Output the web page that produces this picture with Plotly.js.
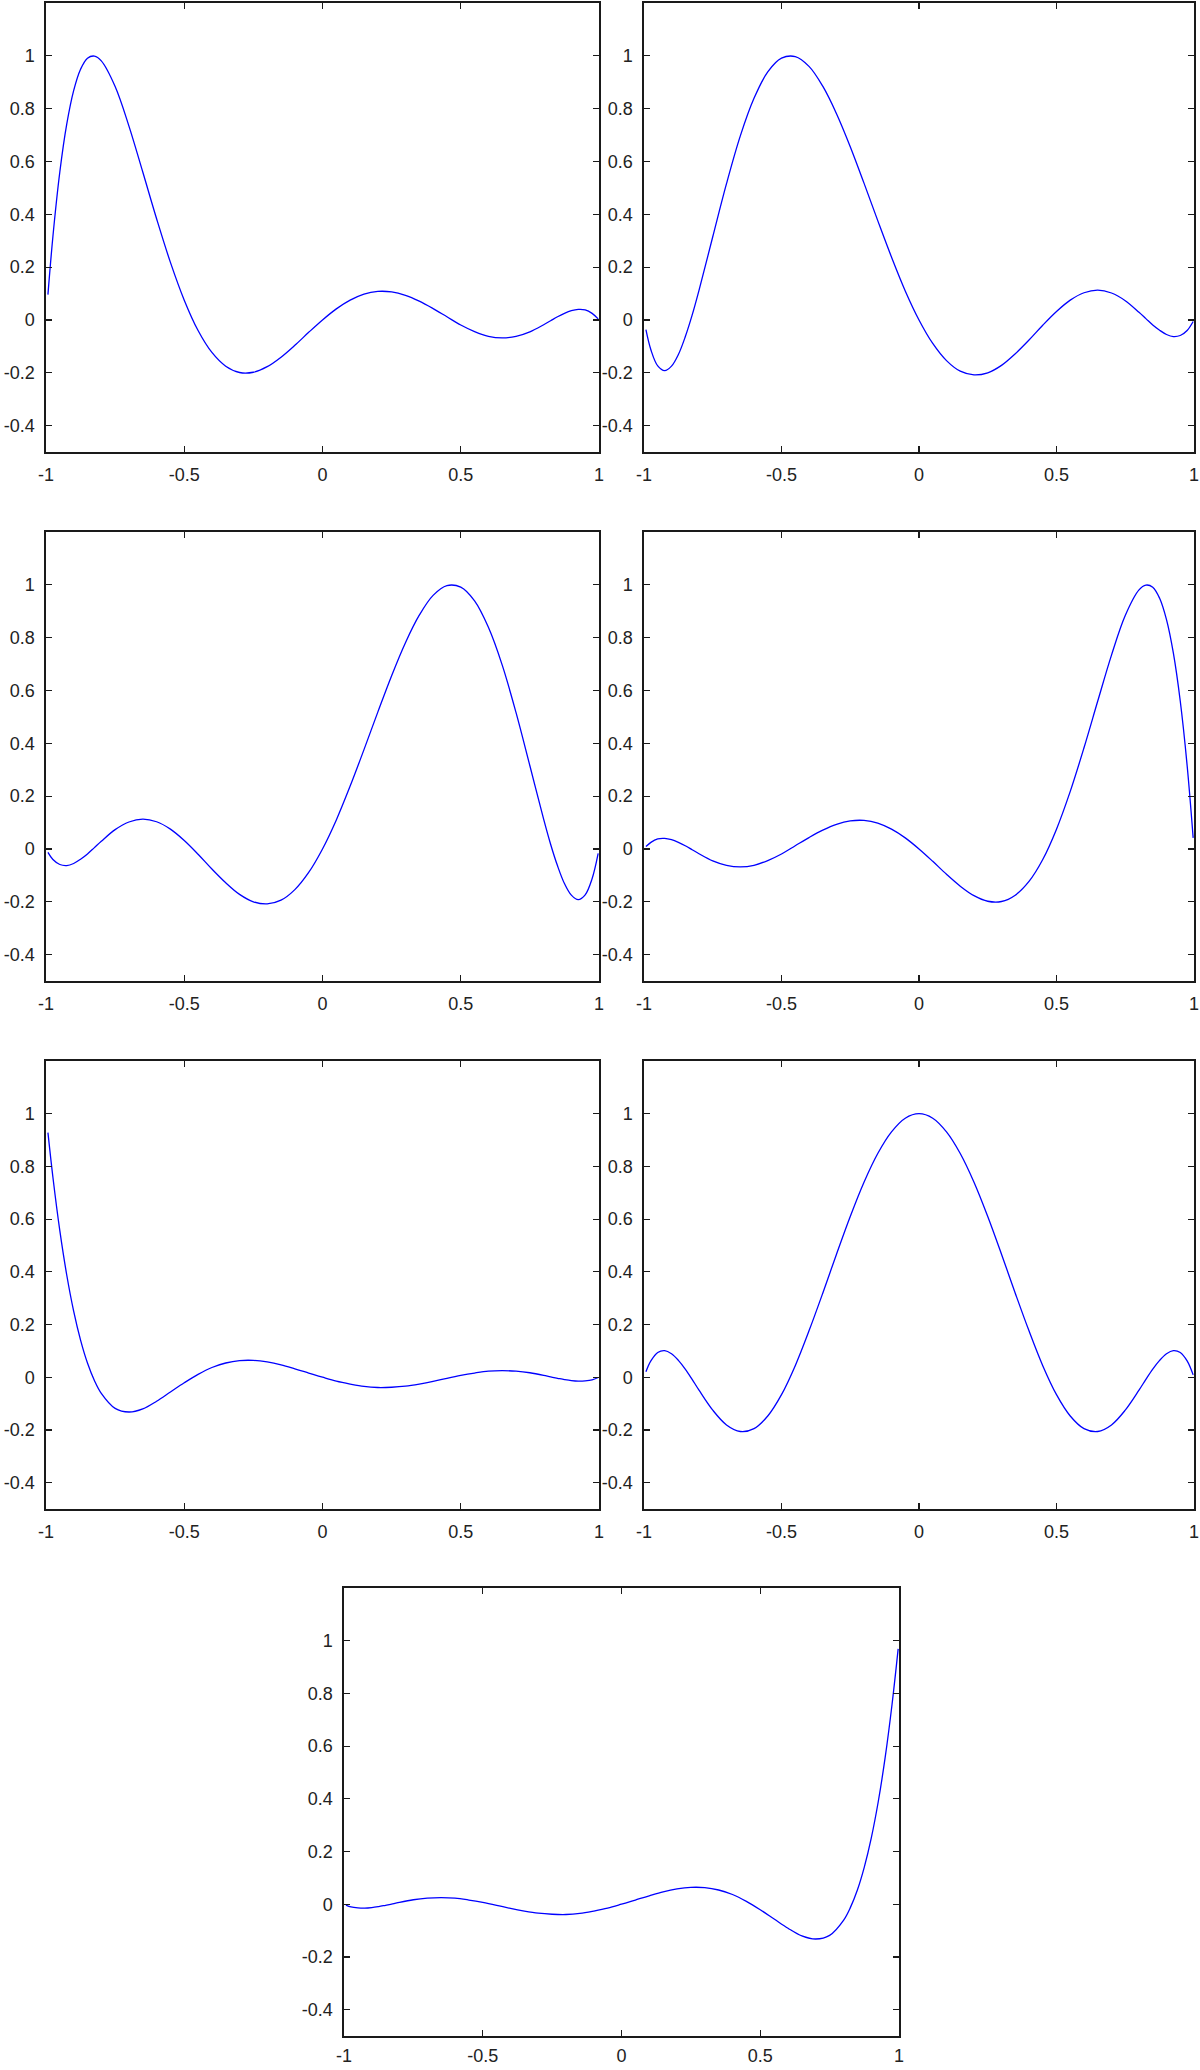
<!DOCTYPE html>
<html>
<head>
<meta charset="utf-8">
<script src="https://cdn.plot.ly/plotly-3.0.1.min.js"></script>
<style>
  html, body { margin: 0; padding: 0; background: #ffffff; }
  #chart { width: 1200px; height: 2070px; }
</style>
</head>
<body>
<div id="chart"></div>
<script>
// sample positions along x
const xSamples = [-0.993, -0.975, -0.95, -0.925, -0.9, -0.875, -0.85, -0.825,
  -0.8, -0.75, -0.7, -0.65, -0.6, -0.55, -0.5, -0.45, -0.4, -0.35, -0.3, -0.25,
  -0.2, -0.15, -0.1, -0.05, 0, 0.05, 0.1, 0.15, 0.2, 0.25, 0.3, 0.35, 0.4, 0.45,
  0.5, 0.55, 0.6, 0.65, 0.7, 0.75, 0.8,
  0.825, 0.85, 0.875, 0.9, 0.925, 0.95, 0.975, 0.997];

// panel 1 (peak near -0.83)
const curvePeakM083 = [0.096, 0.316, 0.560, 0.741, 0.868, 0.949, 0.991, 0.999,
  0.981, 0.884, 0.734, 0.560, 0.383, 0.218, 0.075, -0.040, -0.123, -0.175, -0.199, -0.198,
  -0.177, -0.141, -0.096, -0.047, 0, 0.042, 0.075, 0.098, 0.108, 0.106, 0.093, 0.071, 0.043, 0.012,
  -0.019, -0.044, -0.062, -0.068, -0.062, -0.045, -0.018,
  -0.003, 0.012, 0.025, 0.035, 0.040, 0.038, 0.025, 0.004];

// panel 2 (peak near -0.47)
const curvePeakM047 = [-0.037, -0.113, -0.174, -0.192, -0.175, -0.131, -0.064, 0.018,
  0.112, 0.315, 0.516, 0.696, 0.839, 0.939, 0.991, 0.997, 0.960, 0.885, 0.781, 0.656,
  0.518, 0.376, 0.238, 0.110, 0, -0.089, -0.154, -0.194, -0.208, -0.200, -0.172, -0.128, -0.076, -0.020,
  0.032, 0.075, 0.103, 0.113, 0.102, 0.073, 0.029,
  0.005, -0.019, -0.039, -0.055, -0.063, -0.059, -0.040, -0.006];

// panel 3 (peak near 0.47)
const curvePeakP047 = [-0.013, -0.040, -0.059, -0.063, -0.055, -0.039, -0.019, 0.005,
  0.029, 0.073, 0.102, 0.113, 0.103, 0.075, 0.032, -0.020, -0.076, -0.128, -0.172, -0.200,
  -0.208, -0.194, -0.154, -0.089, 0, 0.110, 0.238, 0.376, 0.518, 0.656, 0.781, 0.885, 0.960, 0.997,
  0.991, 0.939, 0.839, 0.696, 0.516, 0.315, 0.112,
  0.018, -0.064, -0.131, -0.175, -0.192, -0.174, -0.113, -0.017];

// panel 4 (peak near 0.83)
const curvePeakP083 = [0.009, 0.025, 0.038, 0.040, 0.035, 0.025, 0.012, -0.003,
  -0.018, -0.045, -0.062, -0.068, -0.062, -0.044, -0.019, 0.012, 0.043, 0.071, 0.093, 0.106,
  0.108, 0.098, 0.075, 0.042, 0, -0.047, -0.096, -0.141, -0.177, -0.198, -0.199, -0.175, -0.123, -0.040,
  0.075, 0.218, 0.383, 0.560, 0.734, 0.884, 0.981,
  0.999, 0.991, 0.949, 0.868, 0.741, 0.560, 0.316, 0.042];

// panel 5 (peak at -1)
const curvePeakM1 = [0.928, 0.759, 0.556, 0.388, 0.251, 0.141, 0.054, -0.012,
  -0.061, -0.118, -0.132, -0.120, -0.091, -0.056, -0.021, 0.011, 0.037, 0.054, 0.063, 0.064,
  0.058, 0.047, 0.032, 0.016, 0, -0.015, -0.026, -0.035, -0.039, -0.038, -0.034, -0.026, -0.016, -0.004,
  0.007, 0.016, 0.023, 0.025, 0.023, 0.017, 0.007,
  0.001, -0.004, -0.009, -0.013, -0.015, -0.014, -0.010, -0.001];

// panel 6 (peak at 0)
const curvePeak0 = [0.021, 0.062, 0.094, 0.101, 0.089, 0.064, 0.031, -0.008,
  -0.049, -0.125, -0.181, -0.206, -0.195, -0.147, -0.066, 0.044, 0.176, 0.319, 0.467, 0.610,
  0.740, 0.849, 0.931, 0.983, 1, 0.983, 0.931, 0.849, 0.740, 0.610, 0.467, 0.319, 0.176, 0.044,
  -0.066, -0.147, -0.195, -0.206, -0.181, -0.125, -0.049,
  -0.008, 0.031, 0.064, 0.089, 0.101, 0.094, 0.062, 0.009];

// panel 7 (peak at 1)
const curvePeakP1 = [-0.003, -0.010, -0.014, -0.015, -0.013, -0.009, -0.004, 0.001,
  0.007, 0.017, 0.023, 0.025, 0.023, 0.016, 0.007, -0.004, -0.016, -0.026, -0.034, -0.038,
  -0.039, -0.035, -0.026, -0.015, 0, 0.016, 0.032, 0.047, 0.058, 0.064, 0.063, 0.054, 0.037, 0.011,
  -0.021, -0.056, -0.091, -0.120, -0.132, -0.118, -0.061,
  -0.012, 0.054, 0.141, 0.251, 0.388, 0.556, 0.759, 0.969];

const xTickVals = [-1, -0.5, 0, 0.5, 1];
const xTickText = ['-1', '-0.5', '0', '0.5', '1'];
const yTickVals = [-0.4, -0.2, 0, 0.2, 0.4, 0.6, 0.8, 1];
const yTickText = ['-0.4', '-0.2', '0', '0.2', '0.4', '0.6', '0.8', '1'];

const panelSeries = [curvePeakM083, curvePeakM047, curvePeakP047, curvePeakP083,
  curvePeakM1, curvePeak0, curvePeakP1];

// layout geometry (pixels in a 1200 x 2070 page)
const W = 1200, H = 2070;
const colsPx = [[46, 599], [644, 1194], [46, 599], [644, 1194], [46, 599], [644, 1194], [344, 899]];
const rowsPx = [[3, 452], [3, 452], [532, 981], [532, 981], [1061, 1509], [1061, 1509], [1588, 2036]];
const xStandoff = [6, 6, 6, 6, 6, 6, 3];

const FONT = 'Liberation Sans, Arial, Helvetica, sans-serif';

const traces = [];
const layout = {
  width: W, height: H,
  margin: {l: 0, r: 0, t: 0, b: 0},
  paper_bgcolor: '#ffffff',
  plot_bgcolor: '#ffffff',
  showlegend: false,
  font: {family: FONT, size: 18, color: '#222222'}
};

panelSeries.forEach((ys, i) => {
  const n = i + 1;
  const xa = 'x' + (n === 1 ? '' : n);
  const ya = 'y' + (n === 1 ? '' : n);
  traces.push({
    x: xSamples, y: ys, xaxis: xa, yaxis: ya,
    type: 'scatter', mode: 'lines',
    line: {color: '#0000ff', width: 1.3, shape: 'spline', smoothing: 1},
    hoverinfo: 'skip'
  });
  const common = {
    showline: true, mirror: 'ticks', linecolor: '#1a1a1a', linewidth: 1.6,
    ticks: 'inside', ticklen: 6, tickwidth: 1.2, tickcolor: '#1a1a1a',
    showgrid: false, zeroline: false, fixedrange: true,
    ticklabeloverflow: 'allow',
    tickfont: {family: FONT, size: 18, color: '#222222'}
  };
  layout['xaxis' + (n === 1 ? '' : n)] = Object.assign({}, common, {
    domain: [colsPx[i][0] / W, colsPx[i][1] / W],
    anchor: ya, range: [-1, 1],
    tickmode: 'array', tickvals: xTickVals, ticktext: xTickText,
    ticklabelstandoff: xStandoff[i]
  });
  layout['yaxis' + (n === 1 ? '' : n)] = Object.assign({}, common, {
    domain: [1 - rowsPx[i][1] / H, 1 - rowsPx[i][0] / H],
    anchor: xa, range: [-0.5, 1.2],
    tickmode: 'array', tickvals: yTickVals, ticktext: yTickText,
    ticklabelstandoff: 6
  });
});

Plotly.newPlot('chart', traces, layout, {staticPlot: true, displayModeBar: false});
</script>
</body>
</html>
